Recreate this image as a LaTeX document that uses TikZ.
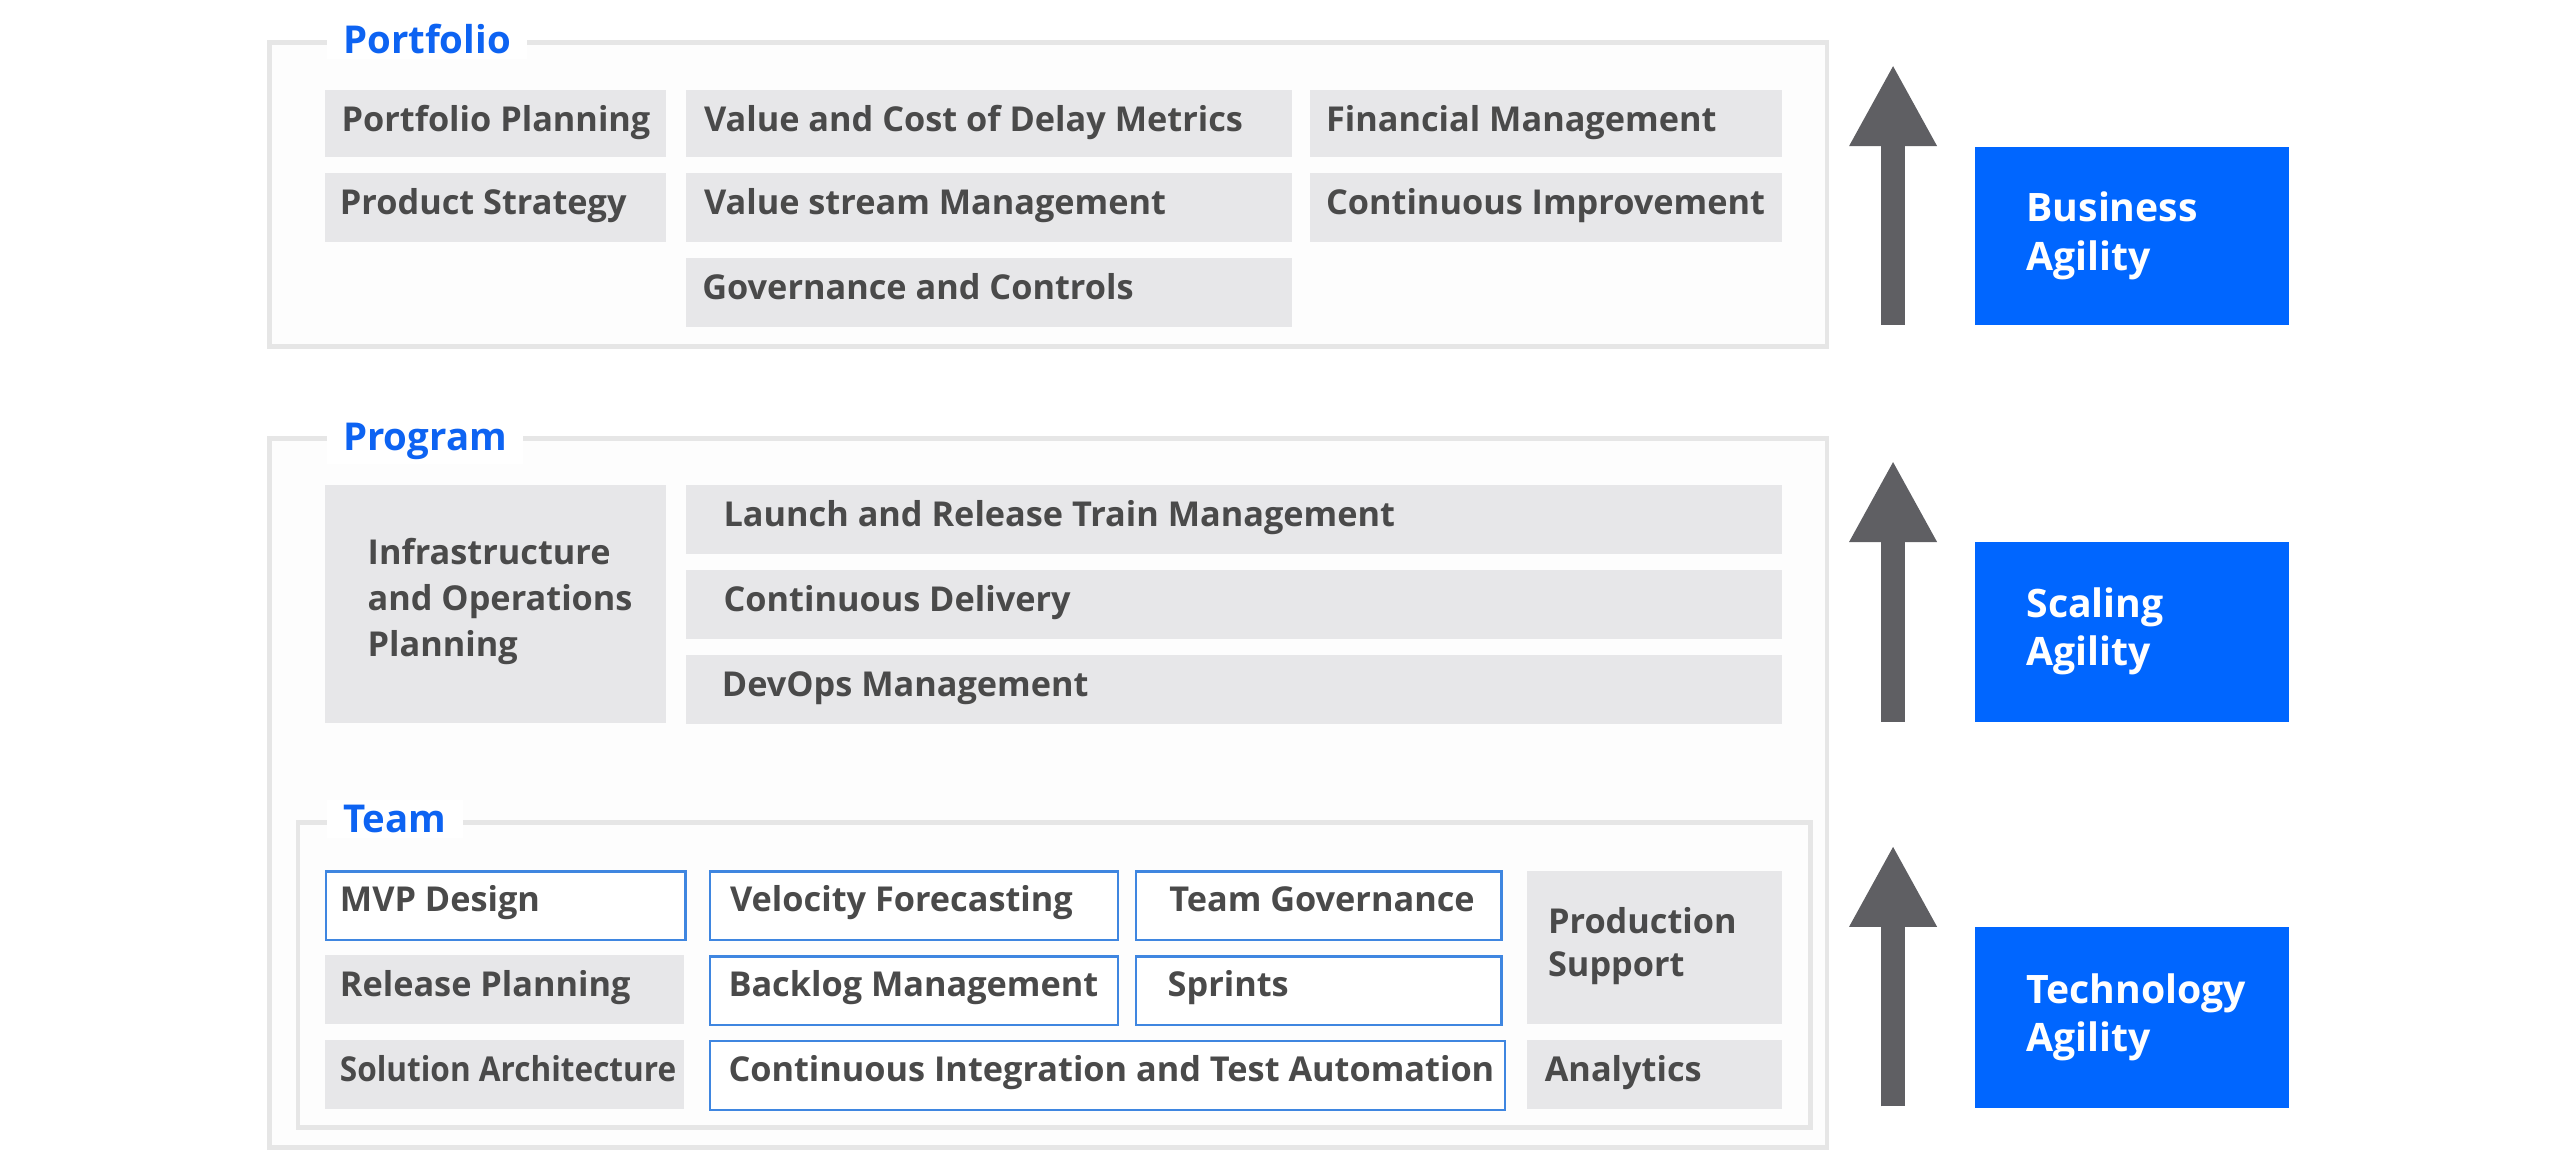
\documentclass[tikz,border=0pt]{standalone}
\usepackage{fontspec}
\usepackage{graphicx}
\setmainfont{Open Sans}
\usetikzlibrary{arrows.meta}
\definecolor{gfill}{HTML}{E7E7E9}
\definecolor{txtc}{HTML}{4A4A4A}
\definecolor{lblue}{HTML}{0D63F2}
\definecolor{bblue}{HTML}{0066FF}
\definecolor{bord}{HTML}{3F86E0}
\definecolor{frm}{HTML}{E6E6E6}
\definecolor{frmfill}{HTML}{FDFDFD}
\definecolor{arr}{HTML}{5F5F63}
\tikzset{
  gbox/.style={fill=gfill,draw=none,inner sep=0},
  wbox/.style={fill=white,draw=bord,line width=1.5pt,inner sep=0},
  bluebox/.style={fill=bblue,draw=none,inner sep=0},
  itemtxt/.style={inner sep=0,text=txtc,font=\fontsize{21}{25}\selectfont\bfseries},
  agtxt/.style={inner sep=0,text=white,font=\fontsize{24}{28}\selectfont\bfseries,anchor=base west},
  frame/.style={draw=frm,line width=3pt,fill=frmfill},
  title/.style={fill=white,inner xsep=10pt,inner ysep=3pt,text=lblue,font=\fontsize{23.5}{28}\selectfont\bfseries,anchor=base west},
  bigarrow/.style={draw=arr,line width=15pt,-{Triangle[width=50pt,length=50pt]}}
}
% name, style, x, y, w, h, text pad, text
\newcommand\itembox[8]{%
  \node[#2,minimum width=#5pt,minimum height=#6pt,anchor=north west] (#1) at (#3,#4) {};
  \node[itemtxt,anchor=base west] (#1t) at ([xshift=#7pt,yshift=-25.5pt]#1.north west) {#8};}
\begin{document}
\begin{tikzpicture}[x=1pt,y=-1pt]
\useasboundingbox (0,0) rectangle (1568,705);
% frames
\draw[frame] (165,25.9) rectangle (1119,212);
\draw[frame] (165,268.6) rectangle (1119,702.8);
\draw[frame] (182.5,504) rectangle (1109,690.5);
\node[title] (tport) at (200,32.6) {Portfolio};
\node[title] (tprog) at (200,275.7) {Program};
\node[title] (tteam) at (200,510) {Team};
% portfolio
\itembox{pp}{gbox}{199}{55}{209}{41}{10}{Portfolio Planning}
\itembox{vc}{gbox}{420}{55}{371}{41}{11}{Value and Cost of Delay Metrics}
\itembox{fm}{gbox}{802}{55}{289}{41}{10}{Financial Management}
\itembox{ps}{gbox}{199}{106}{209}{42}{9}{Product Strategy}
\itembox{vs}{gbox}{420}{106}{371}{42}{11}{Value stream Management}
\itembox{ci}{gbox}{802}{106}{289}{42}{10}{Continuous Improvement}
\itembox{gc}{gbox}{420}{158}{371}{42}{10}{Governance and Controls}
% program
\node[gbox,minimum width=209pt,minimum height=145.7pt,anchor=north west] (io) at (199,297) {};
\node[itemtxt,anchor=base west] (io1) at (225,346) {Infrastructure};
\node[itemtxt,anchor=base west] (io2) at (225,374) {and Operations};
\node[itemtxt,anchor=base west] (io3) at (225,402) {Planning};
\itembox{lr}{gbox}{420}{297}{671}{42}{23}{Launch and Release Train Management}
\itembox{cd}{gbox}{420}{349}{671}{42}{23}{Continuous Delivery}
\itembox{dm}{gbox}{420}{401}{671}{42}{22}{DevOps Management}
% team
\itembox{mvp}{wbox}{199}{533}{220}{42}{9}{MVP Design}
\itembox{vf}{wbox}{434}{533}{250}{42}{13}{Velocity Forecasting}
\itembox{tg}{wbox}{695}{533}{224}{42}{21}{Team Governance}
\node[gbox,minimum width=156pt,minimum height=94pt,anchor=north west] (prs) at (935,533) {};
\node[itemtxt,anchor=base west] (prs1) at (948,572) {Production};
\node[itemtxt,anchor=base west] (prs2) at (948,598) {Support};
\itembox{rp}{gbox}{199}{585}{220}{42}{9}{Release Planning}
\itembox{bm}{wbox}{434}{585}{250}{42}{12}{Backlog Management}
\itembox{sp}{wbox}{695}{585}{224}{42}{20}{Sprints}
\itembox{sa}{gbox}{199}{637}{220}{42}{9}{\scalebox{0.92}[1]{Solution Architecture}}
\itembox{cit}{wbox}{434}{637}{487}{42}{12}{Continuous Integration and Test Automation}
\itembox{an}{gbox}{935}{637}{156}{42}{11}{Analytics}
% arrows
\coordinate (a1s) at (1159.5,199);
\coordinate (a1e) at (1159.5,39.5);
\coordinate (a2s) at (1159.5,442);
\coordinate (a2e) at (1159.5,282);
\coordinate (a3s) at (1159.5,677.6);
\coordinate (a3e) at (1159.5,517.7);
\draw[bigarrow] (a1s) -- (a1e);
\draw[bigarrow] (a2s) -- (a2e);
\draw[bigarrow] (a3s) -- (a3e);
% agility boxes
\node[bluebox,minimum width=192.5pt,minimum height=109.4pt,anchor=north west] (ba) at (1209.5,89.6) {};
\node[agtxt] (ba1) at (1241,135.7) {Business};
\node[agtxt] (ba2) at (1241,165.5) {Agility};
\node[bluebox,minimum width=192.5pt,minimum height=110pt,anchor=north west] (sca) at (1209.5,332) {};
\node[agtxt] (sca1) at (1241,378) {Scaling};
\node[agtxt] (sca2) at (1241,407.4) {Agility};
\node[bluebox,minimum width=192.5pt,minimum height=110.7pt,anchor=north west] (ta) at (1209.5,567.8) {};
\node[agtxt] (ta1) at (1241,614.5) {Technology};
\node[agtxt] (ta2) at (1241,644) {Agility};
\end{tikzpicture}
\end{document}
